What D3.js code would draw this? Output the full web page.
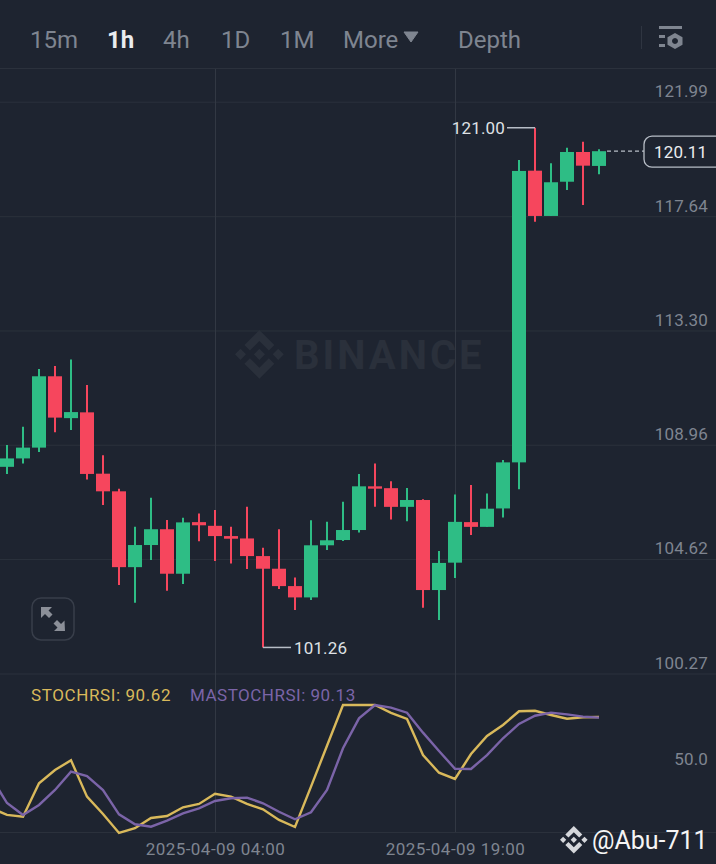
<!DOCTYPE html>
<html><head><meta charset="utf-8">
<style>html,body{margin:0;padding:0;background:#1e2430;overflow:hidden}svg{display:block}text{font-family:Roboto,sans-serif}</style>
<script src="https://cdn.jsdelivr.net/npm/d3@7/dist/d3.min.js"></script>
</head><body><svg id="c" width="716" height="864"></svg>
<script>
const opens  = [108.12,108.44,108.85,111.56,109.97,110.19,107.86,107.19,104.31,105.15,105.75,104.06,106.02,105.88,105.49,105.40,104.73,104.25,103.59,103.16,105.14,105.34,105.72,107.38,107.31,106.60,106.86,103.44,104.48,106.02,105.84,106.54,108.29,119.37,117.65,118.95,120.08,119.55];
const highs  = [108.95,109.64,111.84,111.95,112.20,111.23,108.56,107.29,105.84,106.95,106.10,106.19,106.35,106.48,105.84,106.60,105.05,105.75,103.92,106.09,106.03,106.79,107.85,108.25,107.57,107.32,106.89,104.92,107.07,107.43,107.11,108.38,119.78,121.00,119.65,120.24,120.47,120.18];
const lows   = [107.85,108.25,108.68,109.43,109.52,107.64,106.67,103.63,102.96,104.58,103.41,103.67,105.29,104.54,104.45,104.24,101.26,103.48,102.68,103.06,104.96,105.30,105.63,106.60,106.12,106.05,102.77,102.30,103.90,105.53,105.84,106.20,107.27,117.43,117.65,118.64,118.07,119.23];
const closes = [108.44,108.85,111.56,109.99,110.20,107.85,107.19,104.31,105.15,105.75,104.06,106.01,105.90,105.49,105.39,104.73,104.25,103.59,103.16,105.14,105.33,105.72,107.38,107.29,106.60,106.86,103.44,104.47,106.03,105.84,106.53,108.29,119.36,117.65,118.93,120.08,119.56,120.11];
// first value belongs to the hour just left of the visible window
const stochRsi = [19.5,14.1,12.7,38.8,49.2,56.8,28.4,14.8,0,3.7,11.7,13.3,20.1,22.7,30.7,28.4,22.7,18.5,10.2,4.7,36.2,68.2,100,100,100,93.8,89.1,60.9,47.1,42.2,61.7,75.8,84.4,95.1,95.5,92.2,89.3,90.4,90.62];
const maStochRsi = [43.8,23.4,14.1,21.9,33.6,47.9,44.5,33.6,14.6,6.8,4.9,9.6,15.4,19.3,25,27.1,27.6,23.2,16.6,10.7,16.2,33.6,66.2,89.6,100,97.9,94,78.4,64.1,50.2,50,60.9,74,85.2,91.6,94,92.7,90.9,90.13];
const priceTicks = [121.99,117.64,113.30,108.96,104.62,100.27];
const oscTicks = [50];
const timeTicks = [[13,"2025-04-09 04:00"],[28,"2025-04-09 19:00"]];
const tabs = [["15m",30,false],["1h",107,true],["4h",163,false],["1D",221,false],["1M",280,false],["More",343,false],["Depth",458,false]];

const UP="#2ebd85", DOWN="#f6465d", GRID="#2b313c", LABEL="#7f8590";
const svg=d3.select("#c");
svg.append("rect").attr("width",716).attr("height",864).attr("fill","#1e2430");

const x=d3.scaleLinear().domain([0,37]).range([7,599]);
const y=d3.scaleLinear().domain([121.99,100.27]).range([101.7,673.5]);
const yo=d3.scaleLinear().domain([100,0]).range([705,833]);

// header
svg.append("line").attr("x1",0).attr("x2",716).attr("y1",68.5).attr("y2",68.5).attr("stroke",GRID);
svg.selectAll("text.tab").data(tabs).join("text").attr("class","tab")
  .attr("x",d=>d[1]).attr("y",48).attr("font-size",24).attr("letter-spacing",0)
  .attr("font-weight",d=>d[2]?700:400).attr("fill",d=>d[2]?"#eaecef":"#7f8590").text(d=>d[0]);
svg.append("path").attr("d","M404 32h14l-7 10z").attr("fill","#7f8590").attr("stroke","#7f8590").attr("stroke-linejoin","round");
svg.append("line").attr("x1",641.5).attr("x2",641.5).attr("y1",26).attr("y2",49).attr("stroke","#2f3541");
const ic=svg.append("g").attr("fill","#7f8590");
ic.append("rect").attr("x",659).attr("y",26).attr("width",23).attr("height",3);
ic.append("rect").attr("x",659).attr("y",35).attr("width",6).attr("height",3);
ic.append("rect").attr("x",659).attr("y",44).attr("width",6).attr("height",3);
ic.append("path").attr("fill-rule","evenodd").attr("d","M675 33l7.5 4.2v7.6L675 49l-7.500-4.200v-7.600zM675 38a3 3 0 1 0 .01 0z");

// grid
const gy=svg.append("g")
  .call(d3.axisRight(y).tickValues(priceTicks).tickSize(716).tickFormat(d3.format(".2f")));
gy.select(".domain").remove();
gy.selectAll("line").attr("stroke",GRID);
gy.selectAll("text").attr("x",708).attr("dy",-5).attr("text-anchor","end").attr("font-size",17).attr("letter-spacing",.15).attr("fill",LABEL);
const go=svg.append("g").call(d3.axisRight(yo).tickValues(oscTicks).tickSize(0).tickFormat(d3.format(".1f")));
go.select(".domain").remove();
go.selectAll("text").attr("x",708).attr("dy",-5).attr("text-anchor","end").attr("font-size",17).attr("letter-spacing",.15).attr("fill",LABEL);

const gx=svg.append("g").attr("transform","translate(0,832)")
  .call(d3.axisBottom(x).tickValues(timeTicks.map(d=>d[0])).tickSize(-763).tickPadding(10.500)
    .tickFormat(d=>timeTicks.find(t=>t[0]===d)[1]));
gx.select(".domain").remove();
gx.selectAll("line").attr("stroke","#323843");
gx.selectAll("text").attr("font-size",17).attr("letter-spacing",.45).attr("fill",LABEL);
svg.append("line").attr("x1",0).attr("x2",716).attr("y1",832.5).attr("y2",832.5).attr("stroke",GRID);

// watermark
const LOGO="m38.73 53.2 24.59-24.58 24.6 24.6 14.3-14.31L63.32 0l-38.9 38.9zM0 63.31l14.3-14.31 14.31 14.31-14.31 14.3zM38.73 73.41l24.59 24.59 24.6-24.6 14.31 14.29-38.9 38.91-38.91-38.88v-.03zM98 63.31l14.3-14.31 14.31 14.3-14.31 14.32zM77.83 63.3 63.32 48.78 52.59 59.51l-1.24 1.23-2.54 2.54 14.51 14.5 14.51-14.52z";
svg.append("path").attr("d",LOGO).attr("transform","translate(235,330) scale(.385)").attr("fill","#2a303b");
svg.append("text").attr("x",294).attr("y",368.500).attr("font-size",40).attr("font-weight",700).attr("letter-spacing",3).attr("fill","#2a303b").text("BINANCE");

// candles
const idx=d3.range(opens.length);
const col=i=>closes[i]>=opens[i]?UP:DOWN;
const cg=svg.append("g");
cg.selectAll("line").data(idx).join("line")
  .attr("x1",i=>x(i)).attr("x2",i=>x(i)).attr("y1",i=>y(highs[i])).attr("y2",i=>y(lows[i]))
  .attr("stroke",col).attr("stroke-width",2);
cg.selectAll("rect").data(idx).join("rect")
  .attr("x",i=>x(i)-7).attr("width",14)
  .attr("y",i=>y(Math.max(opens[i],closes[i])))
  .attr("height",i=>Math.max(1.5,Math.abs(y(opens[i])-y(closes[i]))))
  .attr("fill",col);

// high/low annotations
const hi=33, lo=16, ANN="#b7bdc6";
svg.append("path").attr("d",`M${x(hi)} ${y(highs[hi])}H${x(hi)-28}`).attr("stroke",ANN).attr("stroke-width",1.5).attr("fill","none");
svg.append("text").attr("x",x(hi)-30).attr("y",y(highs[hi])+6).attr("text-anchor","end").attr("font-size",17).attr("letter-spacing",.15).attr("fill","#dfe1e5").text(d3.format(".2f")(highs[hi]));
svg.append("path").attr("d",`M${x(lo)} ${y(lows[lo])}H${x(lo)+28}`).attr("stroke",ANN).attr("stroke-width",1.5).attr("fill","none");
svg.append("text").attr("x",x(lo)+31).attr("y",y(lows[lo])+6.500).attr("font-size",17).attr("letter-spacing",.15).attr("fill","#dfe1e5").text(d3.format(".2f")(lows[lo]));

// last price
const last=closes[closes.length-1], ly=y(last);
svg.append("line").attr("x1",x(37)+8).attr("x2",644).attr("y1",ly).attr("y2",ly).attr("stroke","#b7bdc6").attr("stroke-width",1.2).attr("stroke-dasharray","4 3");
svg.append("rect").attr("x",644).attr("y",ly-15).attr("width",80).attr("height",31).attr("rx",8).attr("fill","#1e2430").attr("stroke","#b7bdc6").attr("stroke-width",1.3);
svg.append("text").attr("x",654).attr("y",ly+6.500).attr("font-size",17).attr("letter-spacing",.15).attr("fill","#eaecef").text(d3.format(".2f")(last));

// expand button
const ex=svg.append("g");
ex.append("rect").attr("x",32).attr("y",598).attr("width",42).attr("height",42).attr("rx",9).attr("fill","none").attr("stroke","#383e4a").attr("stroke-width",1.5);
ex.append("path").attr("fill","#8b8f98").attr("d","M41 607h11l-3.500 3.500 4 4-3.500 3.500-4-4L41 618zM65 631H54l3.500-3.500-4-4 3.500-3.500 4 4 3.500-3.500z");

// oscillator
const lx=d3.scaleLinear().domain([-1,37]).range([x(-1),x(37)]);
const line=d3.line().x((d,i)=>lx(i-1)).y(d=>yo(d));
svg.append("path").attr("d",line(stochRsi)).attr("fill","none").attr("stroke","#d9b95b").attr("stroke-width",2.4);
svg.append("path").attr("d",line(maStochRsi)).attr("fill","none").attr("stroke","#7b64a8").attr("stroke-width",2.4);
svg.append("text").attr("x",31).attr("y",701).attr("font-size",17).attr("letter-spacing",.6).attr("fill","#d9b95b").text("STOCHRSI: "+stochRsi[38]);
svg.append("text").attr("x",190).attr("y",701).attr("font-size",17).attr("letter-spacing",.5).attr("fill","#7b64a8").text("MASTOCHRSI: "+maStochRsi[38]);

// credit
svg.append("path").attr("d",LOGO).attr("transform","translate(560,826) scale(.218)").attr("fill","#d5d7db");
svg.append("text").attr("x",592).attr("y",849).attr("font-size",25).attr("font-weight",400).attr("fill","#f5f5f5").text("@Abu-711");
</script></body></html>
